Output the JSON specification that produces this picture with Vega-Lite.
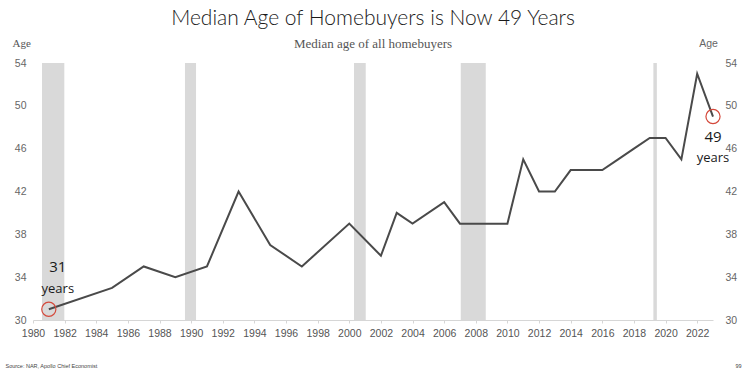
{
  "$schema": "https://vega.github.io/schema/vega-lite/v6.json",
  "width": 680,
  "height": 257,
  "autosize": {"type": "none"},
  "padding": {"left": 33, "top": 63, "right": 37, "bottom": 53},
  "background": "white",
  "title": {
    "text": "Median Age of Homebuyers is Now 49 Years",
    "subtitle": "Median age of all homebuyers",
    "anchor": "middle",
    "frame": "group",
    "font": "Lato",
    "fontSize": 21,
    "fontWeight": 300,
    "color": "#1a1a1a",
    "subtitleFont": "Liberation Serif",
    "subtitleFontSize": 13,
    "subtitleColor": "#555555",
    "subtitlePadding": 9,
    "offset": -14
  },
  "datasets": {
    "age": [
      {"year": 1981, "age": 31}, {"year": 1985, "age": 33}, {"year": 1987, "age": 35},
      {"year": 1989, "age": 34}, {"year": 1991, "age": 35}, {"year": 1993, "age": 42},
      {"year": 1995, "age": 37}, {"year": 1997, "age": 35}, {"year": 2000, "age": 39},
      {"year": 2002, "age": 36}, {"year": 2003, "age": 40}, {"year": 2004, "age": 39},
      {"year": 2006, "age": 41}, {"year": 2007, "age": 39}, {"year": 2008, "age": 39},
      {"year": 2009, "age": 39}, {"year": 2010, "age": 39}, {"year": 2011, "age": 45},
      {"year": 2012, "age": 42}, {"year": 2013, "age": 42}, {"year": 2014, "age": 44},
      {"year": 2015, "age": 44}, {"year": 2016, "age": 44}, {"year": 2017, "age": 45},
      {"year": 2018, "age": 46}, {"year": 2019, "age": 47}, {"year": 2020, "age": 47},
      {"year": 2021, "age": 45}, {"year": 2022, "age": 53}, {"year": 2023, "age": 49}
    ],
    "recessions": [
      {"start": 1980.57, "end": 1981.98},
      {"start": 1989.61, "end": 1990.31},
      {"start": 2000.3, "end": 2001.04},
      {"start": 2007.05, "end": 2008.63},
      {"start": 2019.23, "end": 2019.45}
    ],
    "first": [{"year": 1981, "age": 31}],
    "last": [{"year": 2023, "age": 49}]
  },
  "layer": [
    {
      "layer": [
        {
          "data": {"name": "recessions"},
          "mark": {"type": "rect", "color": "#d9d9d9"},
          "encoding": {
            "x": {
              "field": "start", "type": "quantitative",
              "title": "Source: NAR, Apollo Chief Economist",
              "scale": {"domain": [1980, 2023], "nice": false, "zero": false},
              "axis": {
                "values": [1980,1982,1984,1986,1988,1990,1992,1994,1996,1998,2000,2002,2004,2006,2008,2010,2012,2014,2016,2018,2020,2022],
                "format": "d",
                "grid": false,
                "labelOverlap": false,
                "labelFlush": false,
                "labelBound": false,
                "domainColor": "#d6d6d6",
                "tickColor": "#d6d6d6",
                "tickSize": 3,
                "labelPadding": 5,
                "labelFont": "Liberation Sans",
                "labelFontSize": 10.5,
                "labelColor": "#555555",
                "titleFont": "Liberation Sans",
                "titleFontSize": 5.5,
                "titleFontWeight": "normal",
                "titleColor": "#444444",
                "titleAnchor": "start",
                "titleAlign": "left",
                "titleBaseline": "middle",
                "titleX": -28,
                "titleY": 45
              }
            },
            "x2": {"field": "end"}
          }
        },
        {
          "data": {"name": "age"},
          "mark": {"type": "line", "color": "#4a4a4a", "strokeWidth": 2},
          "encoding": {
            "x": {
              "field": "year", "type": "quantitative",
              "title": "Source: NAR, Apollo Chief Economist",
              "scale": {"domain": [1980, 2023], "nice": false, "zero": false},
              "axis": {
                "values": [1980,1982,1984,1986,1988,1990,1992,1994,1996,1998,2000,2002,2004,2006,2008,2010,2012,2014,2016,2018,2020,2022],
                "format": "d",
                "grid": false,
                "labelOverlap": false,
                "labelFlush": false,
                "labelBound": false,
                "domainColor": "#d6d6d6",
                "tickColor": "#d6d6d6",
                "tickSize": 3,
                "labelPadding": 5,
                "labelFont": "Liberation Sans",
                "labelFontSize": 10.5,
                "labelColor": "#555555",
                "titleFont": "Liberation Sans",
                "titleFontSize": 5.5,
                "titleFontWeight": "normal",
                "titleColor": "#444444",
                "titleAnchor": "start",
                "titleAlign": "left",
                "titleBaseline": "middle",
                "titleX": -28,
                "titleY": 45
              }
            },
            "y": {
              "field": "age", "type": "quantitative", "title": "Age",
              "scale": {"domain": [30, 54], "nice": false, "zero": false},
              "axis": {
                "values": [30, 34, 38, 42, 46, 50, 54],
                "grid": false,
                "domain": false,
                "ticks": false,
                "labelFlush": false,
                "labelOverlap": false,
                "labelPadding": 7,
                "labelFont": "Liberation Sans",
                "labelFontSize": 10.5,
                "labelColor": "#666666",
                "titleAngle": 0,
                "titleFont": "Liberation Serif",
                "titleFontSize": 11,
                "titleFontWeight": "normal",
                "titleColor": "#555555",
                "titleAlign": "left",
                "titleBaseline": "middle",
                "titleX": -21,
                "titleY": -20
              }
            }
          }
        }
      ]
    },
    {
      "layer": [
        {
          "data": {"name": "age"},
          "mark": {"type": "point", "shape": "circle", "size": 200, "filled": false, "stroke": "#d4493b", "strokeWidth": 1.2, "opacity": 1},
          "transform": [{"filter": "datum.year == 1981 || datum.year == 2023"}],
          "encoding": {
            "x": {
              "field": "year", "type": "quantitative", "title": "99",
              "scale": {"domain": [1980, 2023], "nice": false, "zero": false},
              "axis": {
                "orient": "top",
                "labels": false,
                "ticks": false,
                "domain": false,
                "grid": false,
                "titleFont": "Liberation Sans",
                "titleFontSize": 5.5,
                "titleFontWeight": "normal",
                "titleColor": "#444444",
                "titleAlign": "left",
                "titleBaseline": "middle",
                "titleX": 702,
                "titleY": 302
              }
            },
            "y": {
              "field": "age", "type": "quantitative", "title": "Age",
              "scale": {"domain": [30, 54], "nice": false, "zero": false},
              "axis": {
                "orient": "right",
                "values": [30, 34, 38, 42, 46, 50, 54],
                "grid": false,
                "domain": false,
                "ticks": false,
                "labelFlush": false,
                "labelOverlap": false,
                "labelPadding": 12,
                "labelFont": "Liberation Sans",
                "labelFontSize": 10.5,
                "labelColor": "#666666",
                "titleAngle": 0,
                "titleFont": "Liberation Sans",
                "titleFontSize": 10.5,
                "titleFontWeight": "normal",
                "titleColor": "#666666",
                "titleAlign": "center",
                "titleBaseline": "middle",
                "titleX": -5,
                "titleY": -20
              }
            }
          }
        },
        {
          "data": {"name": "first"},
          "mark": {"type": "text", "font": "Open Sans", "fontSize": 15, "color": "#1a1a1a", "dx": 9, "dy": -42},
          "encoding": {
            "x": {"field": "year", "type": "quantitative", "title": "99"},
            "y": {"field": "age", "type": "quantitative", "title": "Age"},
            "text": {"value": "31"}
          }
        },
        {
          "data": {"name": "first"},
          "mark": {"type": "text", "font": "Open Sans", "fontSize": 13, "color": "#1a1a1a", "dx": 9, "dy": -20},
          "encoding": {
            "x": {"field": "year", "type": "quantitative", "title": "99"},
            "y": {"field": "age", "type": "quantitative", "title": "Age"},
            "text": {"value": "years"}
          }
        },
        {
          "data": {"name": "last"},
          "mark": {"type": "text", "font": "Open Sans", "fontSize": 15, "color": "#1a1a1a", "dx": 0, "dy": 20},
          "encoding": {
            "x": {"field": "year", "type": "quantitative", "title": "99"},
            "y": {"field": "age", "type": "quantitative", "title": "Age"},
            "text": {"value": "49"}
          }
        },
        {
          "data": {"name": "last"},
          "mark": {"type": "text", "font": "Open Sans", "fontSize": 13, "color": "#1a1a1a", "dx": 0, "dy": 41},
          "encoding": {
            "x": {"field": "year", "type": "quantitative", "title": "99"},
            "y": {"field": "age", "type": "quantitative", "title": "Age"},
            "text": {"value": "years"}
          }
        }
      ]
    }
  ],
  "resolve": {"scale": {"x": "independent", "y": "independent"}},
  "config": {
    "view": {"stroke": null}
  }
}
